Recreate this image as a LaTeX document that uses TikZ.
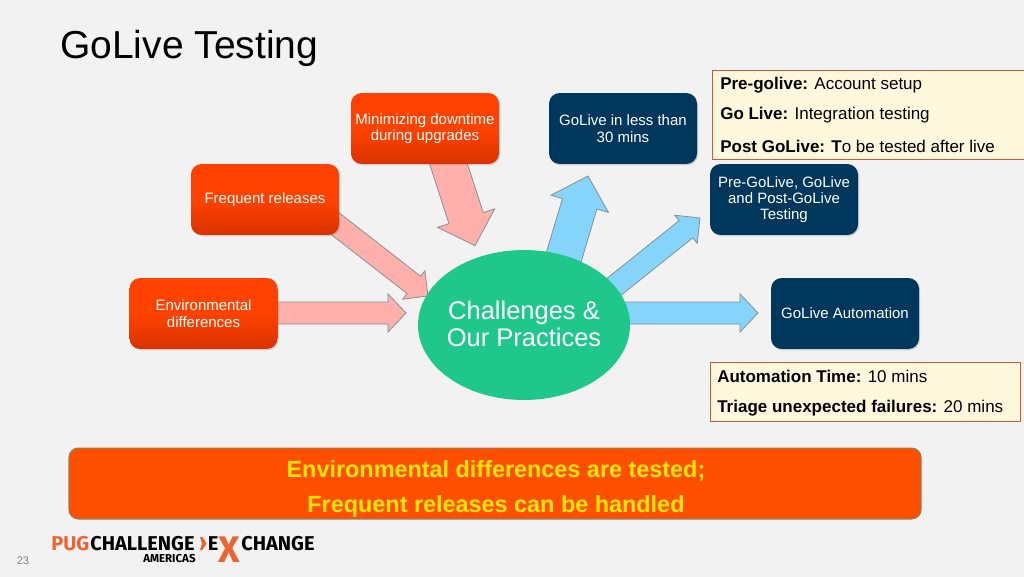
\documentclass[tikz,border=0pt]{standalone}
\usepackage{fontspec}
\setmainfont{Liberation Sans}
\newfontfamily\logofont{Fira Sans}
\usetikzlibrary{calc,shadows}
\definecolor{pagebg}{HTML}{F2F2F2}
\definecolor{redtop}{HTML}{FF4200}
\definecolor{redbot}{HTML}{D93200}
\definecolor{navy}{HTML}{00375C}
\definecolor{pinkarrow}{HTML}{FFB0AA}
\definecolor{bluearrow}{HTML}{84D4FC}
\definecolor{arrowline}{HTML}{8A8F94}
\definecolor{teal}{HTML}{20C78A}
\definecolor{cream}{HTML}{FFF8DC}
\definecolor{callline}{HTML}{C0603A}
\definecolor{barfill}{HTML}{FF5000}
\definecolor{barline}{HTML}{9C7A4A}
\definecolor{bartext}{HTML}{FFE600}
\definecolor{logoorange}{HTML}{EE6430}
\newcommand{\px}[1]{\fontsize{\fpeval{#1*0.75}pt}{\fpeval{#1*0.9}pt}\selectfont}
\newcommand{\pxl}[2]{\fontsize{\fpeval{#1*0.75}pt}{\fpeval{#2*0.75}pt}\selectfont}
% block arrow: from, tip, half shaft width, half head width, head length, fill
\newcommand{\blockarrow}[6]{%
  \draw[arrowline,line width=0.6pt,fill=#6]
    let \p1=($(#2)-(#1)$), \n1={atan2(\y1,\x1)}, \n2={veclen(\x1,\y1)} in
    [shift={(#2)},rotate=\n1]
    (0pt,0pt) -- (-#5*0.75pt,#4*0.75pt) -- (-#5*0.75pt,#3*0.75pt)
    -- (-\n2,#3*0.75pt) -- (-\n2,-#3*0.75pt)
    -- (-#5*0.75pt,-#3*0.75pt) -- (-#5*0.75pt,-#4*0.75pt) -- cycle;}
\tikzset{
  x=0.75pt,y=-0.75pt,
  flowbox/.style={rounded corners=8pt,minimum width=111pt,minimum height=53.2pt,
    inner sep=2pt,align=center,text=white,font=\pxl{15}{16.3},
    drop shadow={shadow xshift=0.8pt,shadow yshift=-1pt,opacity=.3}},
  redbox/.style={flowbox,top color=redtop,bottom color=redbot,middle color=redtop},
  navybox/.style={flowbox,fill=navy},
  callout/.style={draw=callline,line width=0.6pt,fill=cream,anchor=north west,inner sep=0pt,outer sep=0pt},
  calltext/.style={anchor=west,inner sep=0pt,font=\px{17},text=black},
  logotext/.style={anchor=base west,inner sep=0pt,font=\logofont\bfseries\px{20}},
}
\begin{document}
\begin{tikzpicture}
\useasboundingbox (0,0) rectangle (1024,577);
\fill[pagebg] (0,0) rectangle (1024,577);
\node[font=\px{39},anchor=west,inner sep=0pt,text=black] (title) at (60,48) {GoLive Testing};

\coordinate (envS) at (270,313);  \coordinate (envT) at (406,313);
\coordinate (freS) at (325,215.7);\coordinate (freT) at (428,296);
\coordinate (minS) at (445,153);  \coordinate (minT) at (475,245.7);
\coordinate (golS) at (556,283);  \coordinate (golT) at (588,176);
\coordinate (preS) at (600,298);  \coordinate (preT) at (700,218);
\coordinate (autS) at (600,313);  \coordinate (autT) at (758,313);

\blockarrow{envS}{envT}{11}{19}{18}{pinkarrow}
\blockarrow{freS}{freT}{11}{18}{18}{pinkarrow}
\blockarrow{minS}{minT}{18}{30}{29}{pinkarrow}
\blockarrow{golS}{golT}{18}{30}{29}{bluearrow}
\blockarrow{preS}{preT}{11}{18}{18}{bluearrow}
\blockarrow{autS}{autT}{11}{19}{18}{bluearrow}

\node[redbox] (env) at (203.5,313.5) {Environmental\\differences};
\node[redbox] (fre) at (265,199.5) {Frequent releases};
\node[redbox] (min) at (425,128.5) {Minimizing downtime\\during upgrades};
\node[navybox] (gol) at (623,128.5) {GoLive in less than\\30 mins};
\node[navybox] (pre) at (784,199.5) {Pre-GoLive, GoLive\\and Post-GoLive\\Testing};
\node[navybox] (aut) at (845,313.5) {GoLive Automation};

\fill[teal] (524,325) circle [x radius=106,y radius=75];
\node[align=center,text=white,font=\pxl{25.5}{27}] (chal) at (524,324) {Challenges \&\\Our Practices};

\node[callout,minimum width=234pt,minimum height=66.75pt] (call1) at (712,70) {};
\node[calltext] (c1a) at (720,85) {\textbf{Pre-golive:} Account setup};
\node[calltext] (c1b) at (720,115) {\textbf{Go Live:} Integration testing};
\node[calltext] (c1c) at (720,146) {\textbf{Post GoLive: T}o be tested after live};
\node[callout,minimum width=233pt,minimum height=44.25pt] (call2) at (710,362) {};
\node[calltext] (c2a) at (717,376.5) {\textbf{Automation Time:} 10 mins};
\node[calltext] (c2b) at (717,408.5) {\textbf{Triage unexpected failures:} 20 mins};

\node[draw=barline,line width=0.8pt,fill=barfill,rounded corners=7pt,minimum width=639pt,minimum height=53.2pt,inner sep=0pt] (bar) at (495,483.5) {};
\node[font=\bfseries\px{23.4},text=bartext,inner sep=0pt] (b1) at (496,471) {Environmental differences are tested;};
\node[font=\bfseries\px{23.4},text=bartext,inner sep=0pt] (b2) at (496,506) {Frequent releases can be handled};

\node[font=\px{11},text=gray,inner sep=0pt] (num) at (23,561) {23};
\node[logotext,text=logoorange] (l1) at (51,550) {PUG};
\node[logotext,text=black] (l2) at (90,550) {CHALLENGE};
\fill[logoorange] (200,537) -- (202.5,537) -- (206.5,543.5) -- (202.5,550) -- (200,550) -- (202,543.5) -- cycle;
\node[logotext,text=black] (l4) at (207.5,550) {E};
\node[logotext,text=logoorange,font=\logofont\bfseries\px{37}] (l5) at (218,562) {X};
\node[logotext,text=black] (l6) at (241,550) {CHANGE};
\node[logotext,text=black,font=\logofont\bfseries\px{11.5}] (l7) at (143,562.5) {AMERICAS};
\end{tikzpicture}
\end{document}
